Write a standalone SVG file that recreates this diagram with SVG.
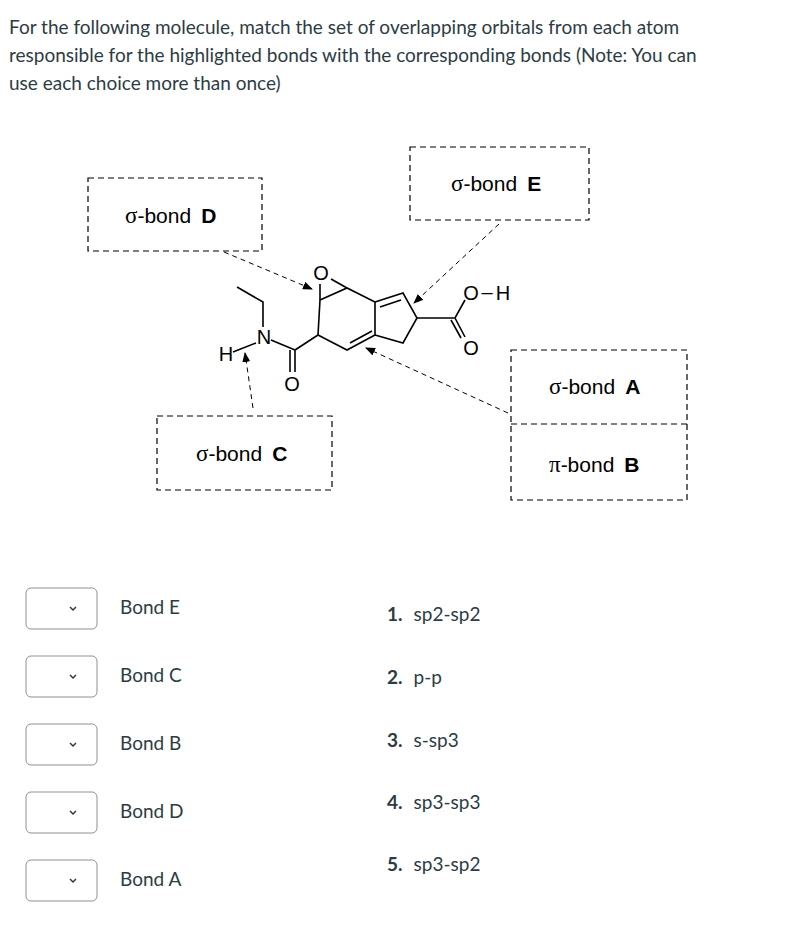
<svg xmlns="http://www.w3.org/2000/svg" width="788" height="940" viewBox="0 0 788 940">
<style>
text{font-family:Lato,"Open Sans","Liberation Sans",sans-serif;fill:#2d3b45}
.q{font-size:19px}
.box{fill:none;stroke:#000;stroke-width:1.2;stroke-dasharray:6 4}
.bl{stroke:#000;stroke-width:1.6;fill:none}
.at{font-family:"Liberation Sans",Arial,sans-serif;font-size:20px;fill:#000;text-anchor:middle}
.lab{font-family:"Liberation Sans",Arial,sans-serif;font-size:21px;fill:#000}
.sig{font-family:"Liberation Serif","Times New Roman",serif;font-size:23px}
.dd{fill:#fff;stroke:#8a9199;stroke-width:1}
.ch{fill:none;stroke:#2d3b45;stroke-width:1.5}
.arr{stroke:#000;stroke-width:1;stroke-dasharray:5 4;fill:none;marker-end:url(#ah)}
.opt{font-size:19px}
</style>
<defs><marker id="ah" markerWidth="10" markerHeight="8" refX="9" refY="4" orient="auto" markerUnits="userSpaceOnUse"><path d="M0,0 L10,4 L0,8 z" fill="#000"/></marker></defs>
<text class="q" x="9" y="34">For the following molecule, match the set of overlapping orbitals from each atom</text>
<text class="q" x="9" y="62">responsible for the highlighted bonds with the corresponding bonds (Note: You can</text>
<text class="q" x="9" y="90">use each choice more than once)</text>
<g id="molecule">
<path class="bl" d="M320,300 L347,288 L375,302 L375,335 L347,350 L318,335 Z"/>
<path class="bl" d="M320,300 L320,284 M347,288 L331,279"/>
<path class="bl" d="M375,302 L403,293 L417,318 L403,343 L375,335"/>
<path class="bl" d="M380,307 L401,300 M350,343 L372,331"/>
<path class="bl" d="M417,318 L455,318 L465,300 M455,318 L465,337 M451,320 L461,338"/>
<path class="bl" d="M318,335 L295,350 L295,372 M290,350 L290,372 M295,350 L271,340 M263,327 L263,302 L237,287 M256,343 L233,352"/>
<text class="at" x="321" y="280">O</text>
<text class="at" x="471" y="300">O</text>
<text class="at" x="487" y="299">–</text>
<text class="at" x="503" y="300">H</text>
<text class="at" x="471" y="355">O</text>
<text class="at" x="292" y="391">O</text>
<text class="at" x="264" y="344">N</text>
<text class="at" x="226" y="361">H</text>
</g>
<g id="connectors">
<path class="arr" d="M224,252 L312,289"/>
<path class="arr" d="M499,224 L414,303"/>
<path class="arr" d="M508,413 L366,348"/>
<path class="arr" d="M253,408 L245,353"/>
</g>
<g id="boxD"><rect class="box" x="88" y="178" width="174" height="73"/><text class="lab" x="125" y="223"><tspan class="sig">σ</tspan>-bond<tspan dx="10" font-weight="bold">D</tspan></text></g>
<g id="boxE"><rect class="box" x="410" y="147" width="179" height="73"/><text class="lab" x="451" y="191"><tspan class="sig">σ</tspan>-bond<tspan dx="10" font-weight="bold">E</tspan></text></g>
<g id="boxC"><rect class="box" x="157" y="416" width="175" height="74"/><text class="lab" x="196" y="461"><tspan class="sig">σ</tspan>-bond<tspan dx="10" font-weight="bold">C</tspan></text></g>
<g id="boxAB"><rect class="box" x="511" y="350" width="176" height="150"/><line class="box" x1="511" y1="424" x2="687" y2="424"/>
<text class="lab" x="549" y="394"><tspan class="sig">σ</tspan>-bond<tspan dx="10" font-weight="bold">A</tspan></text>
<text class="lab" x="549" y="472"><tspan class="sig">π</tspan>-bond<tspan dx="10" font-weight="bold">B</tspan></text></g>
<g id="dropdowns">
<rect class="dd" x="26" y="588" width="71" height="41" rx="5"/><path class="ch" d="M70,607 L73,610 L76,607"/><text class="q" x="120" y="614">Bond E</text>
<rect class="dd" x="26" y="656" width="71" height="41" rx="5"/><path class="ch" d="M70,675 L73,678 L76,675"/><text class="q" x="120" y="682">Bond C</text>
<rect class="dd" x="26" y="724" width="71" height="41" rx="5"/><path class="ch" d="M70,743 L73,746 L76,743"/><text class="q" x="120" y="750">Bond B</text>
<rect class="dd" x="26" y="792" width="71" height="41" rx="5"/><path class="ch" d="M70,811 L73,814 L76,811"/><text class="q" x="120" y="818">Bond D</text>
<rect class="dd" x="26" y="860" width="71" height="41" rx="5"/><path class="ch" d="M70,879 L73,882 L76,879"/><text class="q" x="120" y="886">Bond A</text>
</g>
<g id="options">
<text class="opt" x="387" y="621"><tspan font-weight="bold">1.</tspan><tspan dx="11">sp2-sp2</tspan></text>
<text class="opt" x="387" y="684"><tspan font-weight="bold">2.</tspan><tspan dx="11">p-p</tspan></text>
<text class="opt" x="387" y="747"><tspan font-weight="bold">3.</tspan><tspan dx="11">s-sp3</tspan></text>
<text class="opt" x="387" y="809"><tspan font-weight="bold">4.</tspan><tspan dx="11">sp3-sp3</tspan></text>
<text class="opt" x="387" y="871"><tspan font-weight="bold">5.</tspan><tspan dx="11">sp3-sp2</tspan></text>
</g>
</svg>
